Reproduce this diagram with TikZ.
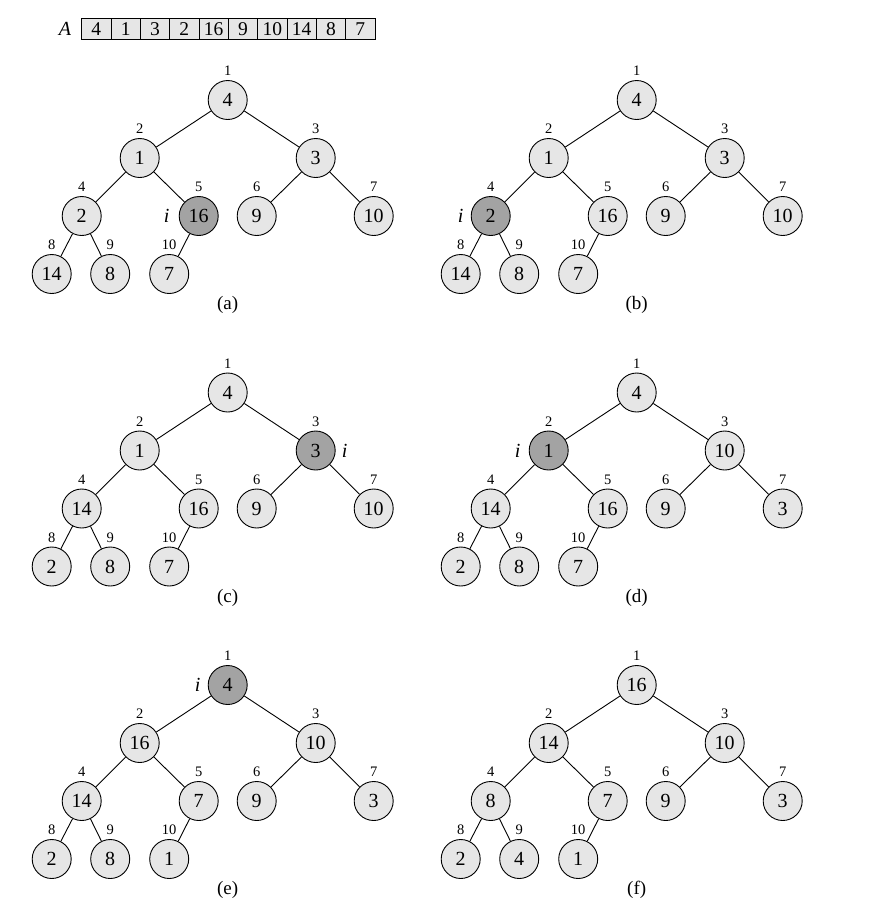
\documentclass[tikz,border=0pt]{standalone}
\usepackage{fontspec}
\setmainfont{Liberation Serif}
\definecolor{lightfill}{RGB}{230,230,230}
\definecolor{darkfill}{RGB}{163,163,163}
\tikzset{
 hnode/.style={circle, draw=black, line width=0.9pt, minimum size=39pt, inner sep=0pt, font=\fontsize{20}{20}\selectfont},
 idxlab/.style={inner sep=0pt, font=\fontsize{14.5}{14.5}\selectfont},
 ilab/.style={inner sep=0pt, font=\fontsize{20}{20}\selectfont\itshape},
 caplab/.style={inner sep=0pt, font=\fontsize{19}{19}\selectfont},
 edge/.style={line width=0.9pt},
 cell/.style={rectangle, draw=black, fill=lightfill, minimum width=29.33pt, minimum height=21pt, inner sep=0pt, font=\fontsize{19.5}{19.5}\selectfont, line width=0.9pt}
}
\newcommand{\heapTree}[6]{%
 \foreach \v [count=\k] in {#4} {
   \pgfmathsetmacro{\px}{#2+{0,-88,88,-146,-29,29,146,-176,-117.5,-58.5}[\k-1]}
   \pgfmathsetmacro{\py}{#3+{0,58,58,116,116,116,116,174,174,174}[\k-1]}
   \ifnum\k=#5 \gdef\fc{darkfill}\else\gdef\fc{lightfill}\fi
   \node[hnode, fill=\fc] (#1\k) at (\px,\py) {\v};
   \node[idxlab] (#1l\k) at (\px,\py-29) {\k};
 }
 \foreach \a/\b in {1/2,1/3,2/4,2/5,3/6,3/7,4/8,4/9,5/10}
   \draw[edge] (#1\a) -- (#1\b);
 \ifnum#5>0 \node[ilab] (#1i) at ([xshift=#6pt]#1#5.center) {i};\fi
 \node[caplab] (#1cap) at (#2,#3+205) {(#1)};
}
\begin{document}
\begin{tikzpicture}[x=1pt,y=-1pt]
\useasboundingbox (0,0) rectangle (883,898);
\node[inner sep=0pt, font=\fontsize{20}{20}\selectfont\itshape] (A) at (65,28.8) {A};
\foreach \v [count=\k] in {4,1,3,2,16,9,10,14,8,7}
  \node[cell] (c\k) at (81.7+29.33*\k-14.665,28.8) {\v};
\heapTree{a}{227.7}{100}{4,1,3,2,16,9,10,14,8,7}{5}{-32}
\heapTree{b}{636.7}{100}{4,1,3,2,16,9,10,14,8,7}{4}{-30}
\heapTree{c}{227.7}{392.5}{4,1,3,14,16,9,10,2,8,7}{3}{29}
\heapTree{d}{636.7}{392.5}{4,1,10,14,16,9,3,2,8,7}{2}{-31}
\heapTree{e}{227.7}{685}{4,16,10,14,7,9,3,2,8,1}{1}{-30}
\heapTree{f}{636.7}{685}{16,14,10,8,7,9,3,2,4,1}{0}{0}
\end{tikzpicture}
\end{document}
